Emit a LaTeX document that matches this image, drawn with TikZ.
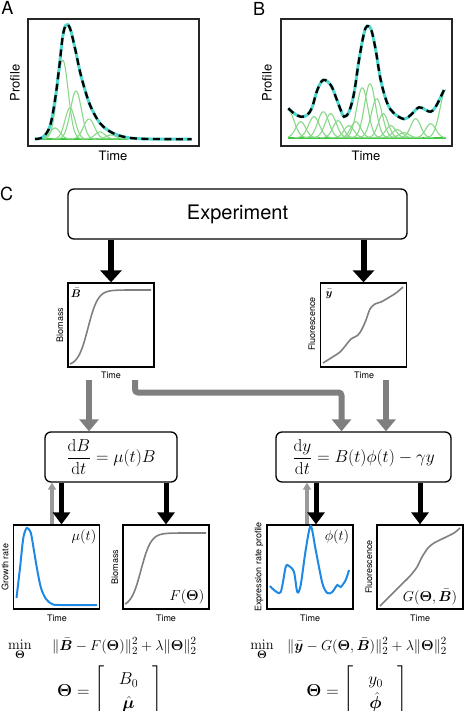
\documentclass[tikz,border=0pt]{standalone}
\usepackage{amsmath,bm}
\usepackage[no-math]{fontspec}
\setmainfont{TeX Gyre Heros}
\usetikzlibrary{arrows.meta}
\definecolor{cyanl}{HTML}{4FD8D0}
\definecolor{gline}{HTML}{88D888}
\definecolor{gbase}{HTML}{3CC83C}
\definecolor{bluel}{HTML}{1E88E5}
\definecolor{grayl}{HTML}{7F7F7F}
\definecolor{grayu}{HTML}{9A9A9A}
\begin{document}
\begin{tikzpicture}[x=1pt,y=-1pt,
  pbox/.style={draw=black,line width=1.3pt,minimum width=86pt,minimum height=84pt,inner sep=0pt},
  abox/.style={draw=black!85,line width=1.3pt,minimum width=171pt,minimum height=127pt,inner sep=0pt},
  ebox/.style={draw=black,line width=1.3pt,rounded corners=6pt,inner sep=0pt},
  barrow/.style={draw=black,line width=6pt,-{Triangle[width=21pt,length=12pt]}},
  barrows/.style={draw=black,line width=5pt,-{Triangle[width=17pt,length=12pt]}},
  garrow/.style={draw=grayl,line width=6pt,-{Triangle[width=19pt,length=12pt]}},
  gup/.style={draw=grayu,line width=3.5pt,-{Triangle[width=8pt,length=7pt]}},
  gcurve/.style={draw=gline,line width=1.1pt},
  gbl/.style={draw=gbase,line width=2.2pt},
  cyanc/.style={draw=cyanl,line width=3pt},
  dashc/.style={draw=black,line width=2.3pt,dash pattern=on 7pt off 4.5pt},
  grc/.style={draw=grayl,line width=1.6pt},
  blc/.style={draw=bluel,line width=2pt},
  lab/.style={font=\fontsize{18}{20}\selectfont},
  axl/.style={font=\fontsize{13}{15}\selectfont},
  axs/.style={font=\fontsize{9}{10}\selectfont},
  mth/.style={font=\fontsize{14}{16}\selectfont},
  mts/.style={font=\fontsize{11}{13}\selectfont},
  eqf/.style={font=\fontsize{16}{19}\selectfont},
  obf/.style={font=\fontsize{15.5}{18}\selectfont},
  thf/.style={font=\fontsize{17}{21}\selectfont}
]
\useasboundingbox (0,0) rectangle (474,711);

% ---------------- Panel A ----------------
\node[lab] (labA) at (7.5,8) {A};
\node[abox] (boxA) at (113.5,82.5) {};
\node[axl,rotate=90] (profA) at (15,83) {Profile};
\node[axl] (timeA) at (113,156) {Time};
\draw[gbl] (35,139) -- (128,139);
\foreach \c/\h/\s in {62.7/79/5.5,76/48/5.5,70/31/5,89/20/5.5,55/11/5,100/7/5,111/4/5}{
  \pgfmathsetmacro\lo{\c-3.6*\s}
  \pgfmathsetmacro\hi{\c+3.6*\s}
  \draw[gcurve] plot[domain=\lo:\hi,samples=40,smooth] (\x,{139-\h*exp(-((\x-\c)^2)/(2*\s*\s))});
}
\def\envA{(35,139) (43,137) (50,126) (55,100) (59.3,66.7) (62.7,36.7) (66,25) (70,28.3) (75,48.3) (80,71.7) (85,90) (90,105) (96.7,118.3) (103.3,126.7) (113.3,133.3) (123.3,136.7) (133.3,138.3) (150,139) (191.7,139.2)}
\draw[cyanc] plot[smooth,tension=0.6] coordinates {\envA};
\draw[dashc] plot[smooth,tension=0.6] coordinates {\envA};

% ---------------- Panel B ----------------
\node[lab] (labB) at (259,8.5) {B};
\node[abox] (boxB) at (366.5,82.5) {};
\node[axl,rotate=90] (profB) at (267,83) {Profile};
\node[axl] (timeB) at (366,156) {Time};
\draw[gbl] (288,137.7) -- (446,137.7);
\foreach \c/\h/\s in {288/28/6,300.7/16/5,314/21/5.5,323.3/26/5.5,330.7/24/5.5,338/17/5,349/12/5,355.7/16/5,362.3/50/5.5,370/54/5.5,376.7/39/5.5,383.3/24/5,390.7/12/5,397.3/8/5,404/5/5,415.7/19/5,430.7/14/5,446/48/6}{
  \pgfmathsetmacro\lo{max(288,\c-3.6*\s)}
  \pgfmathsetmacro\hi{min(446,\c+3.6*\s)}
  \draw[gcurve] plot[domain=\lo:\hi,samples=40,smooth] (\x,{137.7-\h*exp(-((\x-\c)^2)/(2*\s*\s))});
}
\def\envB{(288.3,108.3) (294,113.3) (300.7,116.7) (307.3,115) (312.3,106.7) (317.3,90) (323.3,80) (330.7,85) (335.7,96.7) (340.7,110) (344,116.7) (349,111.7) (354,93.3) (359,60) (364,33.3) (367.3,26) (371.3,30) (375.7,50) (380.7,80) (387.3,103.3) (394,113.3) (404,119) (410.7,115) (419,107.3) (425.7,110) (430.7,111.7) (435.7,106.7) (444,90)}
\draw[cyanc] plot[smooth,tension=0.6] coordinates {\envB};
\draw[dashc] plot[smooth,tension=0.6] coordinates {\envB};

% ---------------- Panel C ----------------
\node[lab] (labC) at (6.5,193.5) {C};
\node[ebox,minimum width=339pt,minimum height=50pt,font=\fontsize{20}{22}\selectfont] (exp) at (237.5,214) {Experiment};

% data plots
\node[pbox] (bbar) at (111,325) {};
\node[pbox] (ybar) at (363.5,325) {};
\node[axs,rotate=90] (bbarl) at (60,325) {Biomass};
\node[axs] (bbart) at (111,375) {Time};
\node[mts] (bbarm) at (76,293) {$\bar{\bm{B}}$};
\node[axs,rotate=90] (ybarl) at (312,324) {Fluorescence};
\node[axs] (ybart) at (364,375) {Time};
\node[mts] (ybarm) at (329,294) {$\bar{\bm{y}}$};
\draw[grc] plot[domain=70:151,samples=60,smooth] (\x,{366-76/(1+exp(-(\x-88)/5))});
\draw[grc] plot[smooth] coordinates {(323,363) (331,358) (340,352) (346,345) (351,339) (358,335) (362,329) (366,320) (370,309) (375,304) (381,302) (388,298) (396,293) (403,287)};

\draw[barrow] (exp.south -| bbar.north) -- (bbar.north);
\draw[barrow] (exp.south -| ybar.north) -- (ybar.north);

% equation boxes
\node[ebox,minimum width=132pt,minimum height=50pt,eqf] (leq) at (111,457) {$\dfrac{\mathrm{d}B}{\mathrm{d}t}=\mu(t)B$};
\node[ebox,minimum width=175pt,minimum height=50pt,eqf] (req) at (363.5,457) {$\dfrac{\mathrm{d}y}{\mathrm{d}t}=B(t)\phi(t)-\gamma y$};

% gray arrows
\coordinate (g1) at (89,380);
\coordinate (g2) at (135,380);
\coordinate (g2m) at (135,392.5);
\coordinate (g3) at (386,380);
\draw[garrow] (g1) -- (g1 |- leq.north);
\draw[garrow,rounded corners=3pt] (g2) -- (g2m) -| ([xshift=-22pt]req.north);
\draw[garrow] (g3) -- (g3 |- req.north);

% lower plots
\node[pbox] (grow) at (56.5,567) {};
\node[pbox] (fbox) at (166,567) {};
\node[pbox] (expr) at (310,567) {};
\node[pbox] (gbox) at (420,567) {};

\node[axs,rotate=90] (growl) at (5,567) {Growth rate};
\node[axs] (growt) at (57,618) {Time};
\node[mth] (growm) at (84,537) {$\mu(t)$};
\node[axs,rotate=90] (fboxl) at (115,567) {Biomass};
\node[axs] (fboxt) at (166,618) {Time};
\node[mth] (fboxm) at (187,597) {$F(\bm{\Theta})$};
\node[axs,rotate=90] (exprl) at (259,567) {Expression rate profile};
\node[axs] (exprt) at (310,618) {Time};
\node[mth] (exprm) at (337,537) {$\phi(t)$};
\node[axs,rotate=90] (gboxl) at (369,567) {Fluorescence};
\node[axs] (gboxt) at (420,618) {Time};
\node[mth] (gboxm) at (430,597) {$G(\bm{\Theta},\bar{\bm{B}})$};

\draw[blc] plot[smooth] coordinates {(16.5,598) (20,568) (23.3,538) (26.7,528) (30,531) (31.7,537) (36.7,567) (41,588) (46,599) (52,604) (60,605) (97,605)};
\draw[grc] plot[domain=125:206,samples=60,smooth] (\x,{607-74/(1+exp(-(\x-141)/5))});
\draw[blc] plot[smooth,tension=0.5] coordinates {(270,586) (274,590) (280.7,592) (285.7,567) (289,566) (294,572) (297.3,592) (300.7,585) (305.7,550) (310.7,526) (315.7,550) (322.3,583) (327.3,593) (332.3,592) (337.3,585) (340.7,587) (345.7,580) (349,570)};
\draw[grc] plot[smooth] coordinates {(380,606) (390,596) (400,586) (410,576) (417,567) (422,557) (428,548) (434,543) (444,538) (454,533) (460,528)};

% arrows between equation boxes and lower plots
\coordinate (ga) at (52,0);
\coordinate (ba) at (61.5,0);
\coordinate (gb) at (307,0);
\coordinate (bb) at (316,0);
\draw[gup] (ga |- grow.north) -- (ga |- leq.south);
\draw[barrows] (ba |- leq.south) -- (ba |- grow.north);
\draw[barrows] (leq.south -| fbox.north) -- (fbox.north);
\draw[gup] (gb |- expr.north) -- (gb |- req.south);
\draw[barrows] (bb |- req.south) -- (bb |- expr.north);
\draw[barrows] (req.south -| gbox.north) -- (gbox.north);

% objective functions
\node[obf,anchor=base,inner sep=0pt] (minl) at (20,649) {$\min\limits_{\bm{\Theta}}$};
\node[obf,anchor=base west,inner sep=0pt] (objl) at (52,650) {$\|\bar{\bm{B}}-F(\bm{\Theta})\|_2^2+\lambda\|\bm{\Theta}\|_2^2$};
\node[thf,inner sep=0pt] (thl) at (110,692) {\renewcommand{\arraystretch}{1.15}$\bm{\Theta}=\left[\;\;\begin{array}{c}B_0\\ \hat{\bm{\mu}}\end{array}\;\;\right]$};
\node[obf,anchor=base,inner sep=0pt] (minr) at (262,649) {$\min\limits_{\bm{\Theta}}$};
\node[obf,anchor=base west,inner sep=0pt] (objr) at (287,650) {$\|\bar{\bm{y}}-G(\bm{\Theta},\bar{\bm{B}})\|_2^2+\lambda\|\bm{\Theta}\|_2^2$};
\node[thf,inner sep=0pt] (thr) at (357,692) {\renewcommand{\arraystretch}{1.15}$\bm{\Theta}=\left[\;\;\begin{array}{c}y_0\\ \hat{\bm{\phi}}\end{array}\;\;\right]$};
\end{tikzpicture}
\end{document}
